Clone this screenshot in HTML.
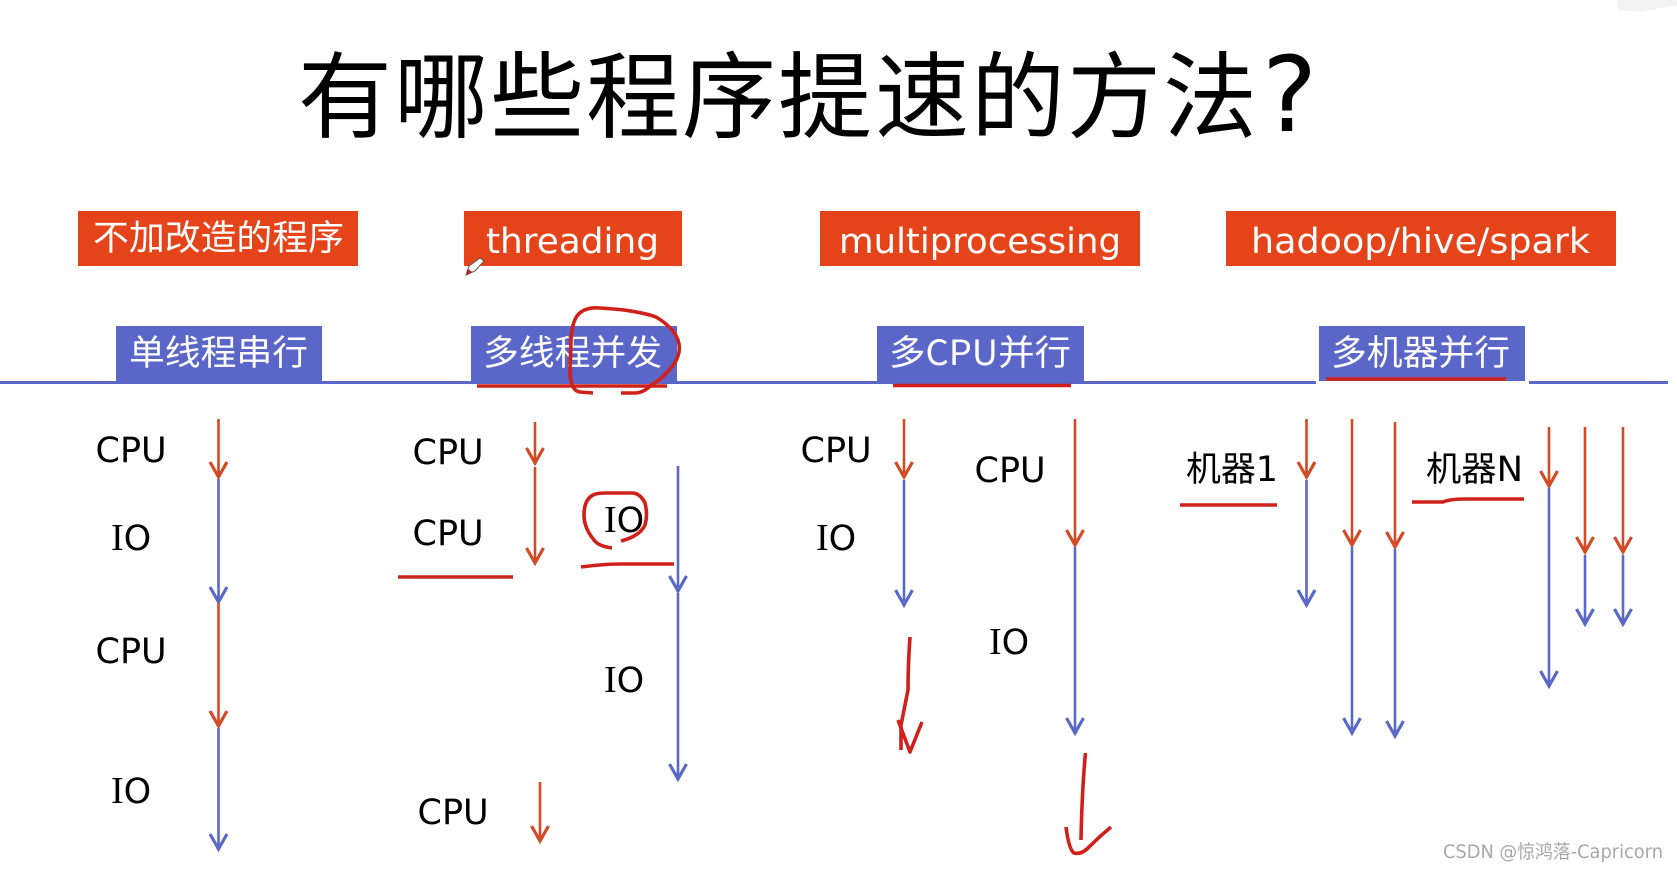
<!DOCTYPE html>
<html><head><meta charset="utf-8"><style>html,body{margin:0;padding:0;background:#fff;width:1677px;height:870px;overflow:hidden}svg{display:block}
.l{font-family:"DejaVu Sans",sans-serif;font-size:35px;fill:#000}
.l tspan{font-family:"Liberation Serif",serif;font-size:38px}
.c{font-family:"Noto Sans CJK SC",sans-serif}
.w{fill:#fff;font-size:35px}
.a{fill:none;stroke-width:2.6}
.h{fill:none;stroke-width:3.2;stroke-linejoin:miter}
.r{stroke:#d24a26}.b{stroke:#5a68c6}
.m{fill:none;stroke:#d0201a;stroke-width:3.6;stroke-linejoin:round;stroke-linecap:butt}
</style></head><body>
<svg width="1677" height="870" viewBox="0 0 1677 870" xmlns="http://www.w3.org/2000/svg">
<defs>
<g id="hr"><path class="h r" d="M-8.5,-16 L0,-1 L8.5,-16"/></g>
<g id="hb"><path class="h b" d="M-8.5,-16 L0,-1 L8.5,-16"/></g>
</defs>
<rect width="1677" height="870" fill="#fff"/>
<path d="M1618,0 L1677,0 L1677,5 L1640,12 L1618,10 Z" fill="#f3f3f3"/>
<text class="c" y="130" font-size="94" x="298 394 490 586 682 778 875 971 1067 1163" fill="#000">有哪些程序提速的方法</text>
<text x="1262" y="131" font-size="104" font-family="'DejaVu Sans',sans-serif" fill="#000">?</text>

<!-- orange -->
<g fill="#e5431a">
<rect x="78" y="211" width="280" height="55"/><rect x="464" y="211" width="218" height="55"/>
<rect x="820" y="211" width="320" height="55"/><rect x="1226" y="211" width="390" height="55"/>
</g>
<text class="c w" x="93" y="250" textLength="251" lengthAdjust="spacingAndGlyphs">不加改造的程序</text>
<g font-family="'DejaVu Sans',sans-serif" font-size="35" fill="#fff">
<text x="486" y="253" textLength="173" lengthAdjust="spacingAndGlyphs">threading</text>
<text x="839" y="253" textLength="282" lengthAdjust="spacingAndGlyphs">multiprocessing</text>
<text x="1251" y="253" textLength="339" lengthAdjust="spacingAndGlyphs">hadoop/hive/spark</text>
</g>

<!-- line + blue -->
<g fill="#5a66c8">
<rect x="0" y="381" width="1316" height="3"/><rect x="1529" y="381" width="139" height="3"/>
<rect x="116" y="326" width="206" height="58"/><rect x="471" y="326" width="206" height="58"/>
<rect x="877" y="326" width="207" height="58"/><rect x="1319" y="326" width="206" height="55"/>
</g>
<text class="c w" x="129" y="365" textLength="179" lengthAdjust="spacingAndGlyphs">单线程串行</text>
<text class="c w" x="483" y="365" textLength="179" lengthAdjust="spacingAndGlyphs">多线程并发</text>
<text class="c w" x="889" y="365" textLength="182" lengthAdjust="spacingAndGlyphs">多CPU并行</text>
<text class="c w" x="1331" y="365" textLength="179" lengthAdjust="spacingAndGlyphs">多机器并行</text>

<!-- labels -->
<g class="l">
<text x="95.500" y="462">CPU</text>
<text x="111" y="550"><tspan>I</tspan>O</text>
<text x="95.500" y="663">CPU</text>
<text x="111" y="803"><tspan>I</tspan>O</text>
<text x="412.500" y="464">CPU</text>
<text x="412.500" y="545">CPU</text>
<text x="417.500" y="824">CPU</text>
<text x="604" y="532"><tspan>I</tspan>O</text>
<text x="604" y="692"><tspan>I</tspan>O</text>
<text x="800.500" y="462">CPU</text>
<text x="816" y="550"><tspan>I</tspan>O</text>
<text x="974.500" y="482">CPU</text>
<text x="989" y="654"><tspan>I</tspan>O</text>
</g>
<text x="1186" y="481" font-size="34.5" textLength="92" lengthAdjust="spacingAndGlyphs" font-family="'DejaVu Sans','Noto Sans CJK SC',sans-serif">机器1</text>
<text x="1426" y="481" font-size="34.5" textLength="97" lengthAdjust="spacingAndGlyphs" font-family="'DejaVu Sans','Noto Sans CJK SC',sans-serif">机器N</text>

<!-- arrows -->
<g>
<path class="a r" d="M218.500,419V478"/><use href="#hr" x="218.500" y="478"/>
<path class="a b" d="M218.500,479V603"/><use href="#hb" x="218.500" y="603"/>
<path class="a r" d="M218.500,603V727"/><use href="#hr" x="218.500" y="727"/>
<path class="a b" d="M218.500,728V850"/><use href="#hb" x="218.500" y="850"/>

<path class="a r" d="M535,422V464"/><use href="#hr" x="535" y="464"/>
<path class="a r" d="M535,467V564"/><use href="#hr" x="535" y="564"/>
<path class="a b" d="M678,466V592"/><use href="#hb" x="678" y="592"/>
<path class="a b" d="M678,593V780"/><use href="#hb" x="678" y="780"/>
<path class="a r" d="M540,782V842"/><use href="#hr" x="540" y="842"/>

<path class="a r" d="M904,419V478"/><use href="#hr" x="904" y="478"/>
<path class="a b" d="M904,480V606"/><use href="#hb" x="904" y="606"/>
<path class="a r" d="M1075,419V546"/><use href="#hr" x="1075" y="546"/>
<path class="a b" d="M1075,547V734"/><use href="#hb" x="1075" y="734"/>

<path class="a r" d="M1306.500,419V478"/><use href="#hr" x="1306.500" y="478"/>
<path class="a b" d="M1306.500,480V606"/><use href="#hb" x="1306.500" y="606"/>
<path class="a r" d="M1352,419V546"/><use href="#hr" x="1352" y="546"/>
<path class="a b" d="M1352,547V734"/><use href="#hb" x="1352" y="734"/>
<path class="a r" d="M1395,422V548"/><use href="#hr" x="1395" y="548"/>
<path class="a b" d="M1395,549V737"/><use href="#hb" x="1395" y="737"/>
<path class="a r" d="M1549,427V487"/><use href="#hr" x="1549" y="487"/>
<path class="a b" d="M1549,488V687"/><use href="#hb" x="1549" y="687"/>
<path class="a r" d="M1585,427V553"/><use href="#hr" x="1585" y="553"/>
<path class="a b" d="M1585,555V625"/><use href="#hb" x="1585" y="625"/>
<path class="a r" d="M1623,427V553"/><use href="#hr" x="1623" y="553"/>
<path class="a b" d="M1623,555V625"/><use href="#hb" x="1623" y="625"/>
</g>

<!-- red annotations -->
<path class="m" d="M593,393 L580,392 Q571,391 570,373 L571,340 Q572,318 581,312 Q588,307 600,308 Q615,309 624,310 Q645,313 656,317 Q673,327 678,340 Q682,352 674,364 Q662,380 651,385 Q645,392 636,393 L621,393"/>
<path class="m" d="M477,386H667"/>
<path class="m" d="M893,385.500H1071" stroke="#c8201a"/>
<path class="m" d="M1326,379H1506"/>
<path class="m" d="M612,548 Q598,546 594,540 Q584,528 584,515 Q584,500 593,495 Q597,493 606,493 L632,493 Q640,493 645,503 Q648,515 645,525 Q640,536 621,541"/>
<path class="m" d="M398,577H513" style="stroke:#c4281a"/>
<path class="m" d="M581,567 Q605,564 620,564 L674,564"/>
<path class="m" d="M1180,505H1277"/>
<path class="m" d="M1412,502 L1443,502 Q1450,499 1465,499 L1524,499"/>
<path class="m" d="M910,637 Q908,665 908,690 Q903,715 901,725 L901,750"/>
<polyline class="m" points="898,720 910,752 922,722"/>
<path class="m" d="M1085.500,753 Q1082,790 1081,840"/>
<path class="m" d="M1066,827 Q1069,850 1074,853 Q1082,855 1090,846 Q1100,836 1111,827"/>

<!-- pen -->
<path d="M466,275 L469,266 L480,258 L484,261 L475,271 Z" fill="#fff" stroke="#555" stroke-width="1"/>
<path d="M466,275 L468,269 L472,272 Z" fill="#c01818"/>

<!-- watermark -->
<text x="1443" y="858" font-size="19" textLength="220" lengthAdjust="spacingAndGlyphs" fill="#a8a8a8" font-family="'DejaVu Sans','Noto Sans CJK SC',sans-serif">CSDN @惊鸿落-Capricorn</text>
</svg>
</body></html>
